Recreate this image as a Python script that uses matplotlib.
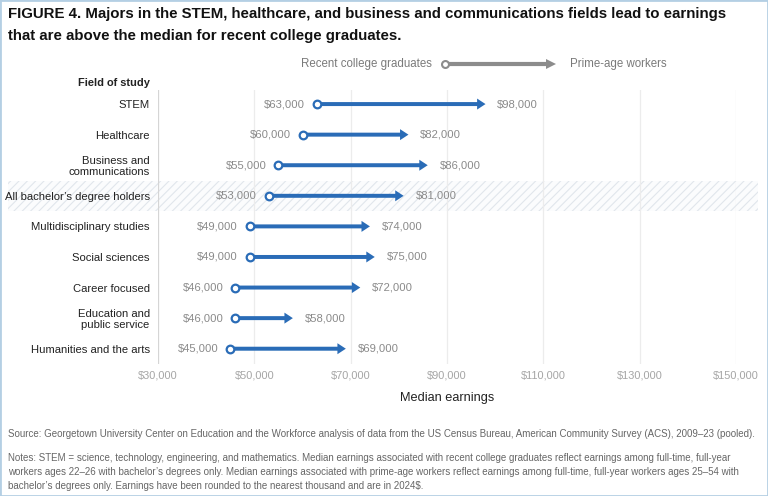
import matplotlib.pyplot as plt
from matplotlib.patches import Rectangle
from matplotlib.transforms import blended_transform_factory

fields = ["STEM", "Healthcare", "Business and\ncommunications", "All bachelor\u2019s degree holders",
          "Multidisciplinary studies", "Social sciences", "Career focused",
          "Education and\npublic service", "Humanities and the arts"]
recent_grads = [63000, 60000, 55000, 53000, 49000, 49000, 46000, 46000, 45000]
prime_age = [98000, 82000, 86000, 81000, 74000, 75000, 72000, 58000, 69000]
x_ticks = [30000, 50000, 70000, 90000, 110000, 130000, 150000]
highlight = "All bachelor\u2019s degree holders"

BLUE = "#2a6cb7"
GREY_TXT = "#8a8a8a"
DARK = "#222222"

plt.rcParams['font.family'] = ['Liberation Sans', 'DejaVu Sans']
plt.rcParams['hatch.linewidth'] = 0.8

W, H = 768, 496
fig = plt.figure(figsize=(W / 100, H / 100), dpi=100)

def fx(px):
    return px / W

def fy(py):
    return 1 - py / H

ax = fig.add_axes([fx(158), fy(364), fx(736) - fx(158), (364 - 90) / H])
ax.set_xlim(30000, 150000)
ax.set_ylim(8.5, -0.46)

# highlighted row band spans the whole figure width
i_hl = fields.index(highlight)
trans = blended_transform_factory(fig.transFigure, ax.transData)
band = Rectangle((fx(8), i_hl - 0.49), fx(758) - fx(8), 0.98, transform=trans,
                 facecolor="#fbfcfd", edgecolor="#e1e6ec", hatch="////", lw=0,
                 zorder=0, clip_on=False)
ax.add_patch(band)

for x in x_ticks:
    ax.axvline(x, color="#d5d5d5" if x == x_ticks[0] else "#ececec", lw=0.9, zorder=1)

for i, (a, b) in enumerate(zip(recent_grads, prime_age)):
    ax.arrow(a, i, b - a, 0, width=0.13, head_width=0.36, head_length=1750,
             length_includes_head=True, lw=0, color=BLUE, zorder=3)
    ax.plot(a, i, marker="o", ms=5.5, mfc="white", mec=BLUE, mew=1.6, zorder=4)
    ax.annotate(f"${a:,}", (a, i), xytext=(-8.5, 0), textcoords="offset points",
                ha="right", va="center", fontsize=8.1, color=GREY_TXT)
    ax.annotate(f"${b:,}", (b, i), xytext=(8.5, 0), textcoords="offset points",
                ha="left", va="center", fontsize=8.1, color=GREY_TXT)

ax.set_yticks(range(len(fields)))
ax.set_yticklabels(fields, fontsize=8.1, color=DARK, linespacing=1.05)
ax.set_xticks(x_ticks)
ax.set_xticklabels([f"${x:,}" for x in x_ticks], fontsize=7.9, color="#a5a5a5")
ax.tick_params(axis="y", length=0, pad=6)
ax.tick_params(axis="x", length=0, pad=5)
for s in ax.spines.values():
    s.set_visible(False)
ax.patch.set_alpha(0)
ax.set_xlabel("Median earnings", fontsize=9.2, color=DARK, labelpad=8)

# title
fig.text(fx(8), fy(14), "FIGURE 4. Majors in the STEM, healthcare, and business and communications fields lead to earnings",
         fontsize=10.8, fontweight="bold", color="#111111", va="center", ha="left")
fig.text(fx(8), fy(36), "that are above the median for recent college graduates.",
         fontsize=10.8, fontweight="bold", color="#111111", va="center", ha="left")

# legend
fig.text(fx(432), fy(64), "Recent college graduates", fontsize=8.3, color="#7a7a7a", ha="right", va="center")
fig.text(fx(570), fy(64), "Prime-age workers", fontsize=8.3, color="#7a7a7a", ha="left", va="center")
fig.add_artist(plt.Line2D([fx(445), fx(547)], [fy(64), fy(64)], color="#8c8c8c", lw=3,
                          transform=fig.transFigure))
fig.add_artist(plt.Polygon([[fx(546), fy(59)], [fx(556), fy(64)], [fx(546), fy(69)]],
                           closed=True, color="#8c8c8c", lw=0, transform=fig.transFigure))
fig.add_artist(plt.Line2D([fx(445)], [fy(64)], marker="o", ms=5, mfc="white", mec="#8c8c8c",
                          mew=1.5, transform=fig.transFigure))

fig.text(fx(150), fy(83), "Field of study", fontsize=7.9, fontweight="bold", color=DARK,
         ha="right", va="center")

# footnotes
source = "Source: Georgetown University Center on Education and the Workforce analysis of data from the US Census Bureau, American Community Survey (ACS), 2009\u201323 (pooled)."
notes = ["Notes: STEM = science, technology, engineering, and mathematics. Median earnings associated with recent college graduates reflect earnings among full-time, full-year",
         "workers ages 22\u201326 with bachelor\u2019s degrees only. Median earnings associated with prime-age workers reflect earnings among full-time, full-year workers ages 25\u201354 with",
         "bachelor\u2019s degrees only. Earnings have been rounded to the nearest thousand and are in 2024$."]
fig.text(fx(8), fy(434), source, fontsize=7.0, color="#666666", ha="left", va="center")
for k, line in enumerate(notes):
    fig.text(fx(8), fy(458 + 14 * k), line, fontsize=7.0, color="#666666", ha="left", va="center")

# frame
fig.add_artist(Rectangle((0, 0), 1, 1, transform=fig.transFigure, fill=False,
                         edgecolor="#b4cfe4", lw=2))

fig.savefig("out.png", dpi=100)
